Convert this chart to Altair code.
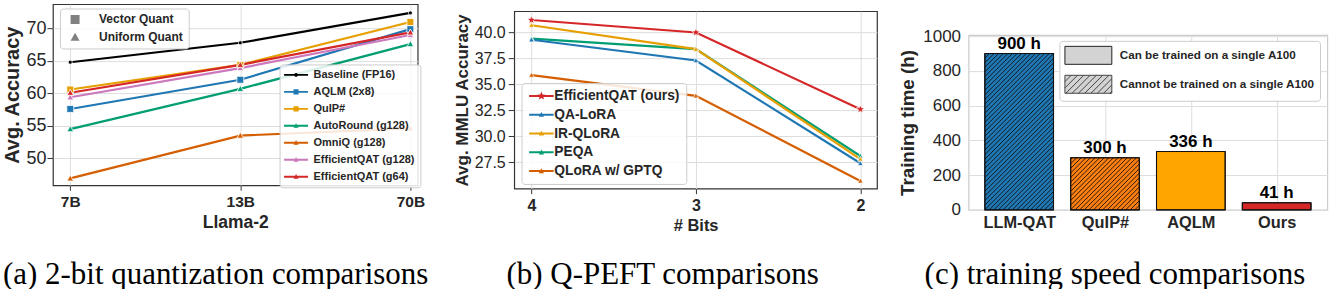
import json
import math
import altair as alt
import pandas as pd

# ---------------- data ----------------
A_MODELS = ["7B", "13B", "70B"]
A_SERIES = ["Baseline (FP16)", "AQLM (2x8)", "QuIP#", "AutoRound (g128)",
            "OmniQ (g128)", "EfficientQAT (g128)", "EfficientQAT (g64)"]
A_BASELINE = [64.8, 67.8, 72.4]
A_AQLM = [57.6, 62.1, 69.9]
A_QUIP = [60.6, 64.4, 71.0]
A_AUTOROUND = [54.5, 60.7, 67.6]
A_OMNIQ = [46.9, 53.5, 54.6]
A_EQAT128 = [59.4, 63.9, 69.0]
A_EQAT64 = [60.1, 64.4, 69.4]
A_QTYPES = ["Vector Quant", "Uniform Quant"]
A_QTYPE = ["Baseline", "Vector Quant", "Vector Quant", "Uniform Quant",
           "Uniform Quant", "Uniform Quant", "Uniform Quant"]

B_BITS = [4, 3, 2]
B_SERIES = ["EfficientQAT (ours)", "QA-LoRA", "IR-QLoRA", "PEQA", "QLoRA w/ GPTQ"]
B_EQAT = [41.2, 40.0, 32.6]
B_QALORA = [39.3, 37.3, 27.4]
B_IRQLORA = [40.7, 38.4, 27.8]
B_PEQA = [39.4, 38.4, 28.1]
B_QLORA_GPTQ = [35.9, 33.9, 25.7]

C_METHODS = ["LLM-QAT", "QuIP#", "AQLM", "Ours"]
C_HOURS = [900, 300, 336, 41]
C_SINGLE = [False, False, True, True]
C_TRAIN = ["Can be trained on a single A100", "Cannot be trained on a single A100"]

CAPTIONS = ["(a) 2-bit quantization comparisons", "(b) Q-PEFT comparisons",
            "(c) training speed comparisons"]

# ---------------- style ----------------
FONT = "Liberation Sans"
SERIF = "Liberation Serif"
TXT = "#262626"
GRID = "#dddddd"
A_COLORS = ["#000000", "#1f77b4", "#e69f00", "#029e73", "#d55e00", "#cc78bc", "#d62728"]
B_COLORS = ["#d62728", "#1f77b4", "#e69f00", "#029e73", "#d55e00"]
C_COLORS = ["#1f77b4", "#ff7f0e", "#ffa500", "#d62728"]
CAP_BASE = 282.5
LW = 2.2


def circle(r):
    return f"M{-r},0A{r},{r} 0 1,1 {r},0A{r},{r} 0 1,1 {-r},0Z"


def square(a):
    return f"M{-a},{-a}H{a}V{a}H{-a}Z"


def tri(h, w):
    return f"M0,{-h}L{w},{h * 0.75}H{-w}Z"


def star(R, ratio=0.45):
    pts = []
    for k in range(10):
        ang = -math.pi / 2 + k * math.pi / 5
        r = R if k % 2 == 0 else R * ratio
        pts.append((r * math.cos(ang), r * math.sin(ang)))
    return "M" + "L".join(f"{x:.3f},{y:.3f}" for x, y in pts) + "Z"


def hline(L, t):
    return f"M{-L},{-t}H{L}V{t}H{-L}Z"


def ax(**kw):
    d = dict(labelFont=FONT, titleFont=FONT, labelColor=TXT, titleColor=TXT,
             gridColor=GRID, gridWidth=1, domain=False, titleFontWeight="bold",
             tickColor="#333333", tickWidth=1, labelFlush=False, labelOverlap=False)
    d.update(kw)
    return alt.Axis(**d)


def leg(**kw):
    d = dict(orient="none", direction="vertical", title=None, labelFont=FONT,
             labelFontWeight="bold", labelColor=TXT, fillColor="rgba(255,255,255,0.85)",
             strokeColor="#cccccc", cornerRadius=3, symbolOpacity=1, labelLimit=400)
    d.update(kw)
    return alt.Legend(**d)


ONE = pd.DataFrame({"k": [0]})


def caption(text, x, y):
    return alt.Chart(ONE).mark_text(font=SERIF, fontSize=31, align="left",
                                    baseline="alphabetic", color="black").encode(
        x=alt.value(x), y=alt.value(y), text=alt.value(text))


def spacer(x1, x2, y):
    # invisible rule that only fixes the panel's outer bounds
    return alt.Chart(ONE).mark_rule(strokeOpacity=0).encode(
        x=alt.value(x1), x2=alt.value(x2), y=alt.value(y), y2=alt.value(y))


def top_gap(w, h):
    return alt.Chart(ONE).mark_rule(strokeOpacity=0).encode(
        x=alt.value(0), y=alt.value(0)).properties(width=w, height=h)


IND = dict(color="independent", shape="independent", fill="independent", stroke="independent")

# ---------------- panel (a) ----------------
WA, HA = 365.3, 181.3
A_TOP = 2.7
A_LEFT = 52
a_vals = [A_BASELINE, A_AQLM, A_QUIP, A_AUTOROUND, A_OMNIQ, A_EQAT128, A_EQAT64]
rows = []
for s, name in enumerate(A_SERIES):
    for i, m in enumerate(A_MODELS):
        rows.append(dict(series=name, model=m, xi=i, acc=a_vals[s][i], qtype=A_QTYPE[s]))
dfA = pd.DataFrame(rows)

A_MARK = [circle(0.65), square(1.15), square(1.15), tri(1.15, 1.1), tri(1.15, 1.1),
          tri(1.15, 1.1), tri(1.15, 1.1)]
LA = hline(4, 0.32)
A_LEG = [LA + circle(0.6), LA + square(0.85), LA + square(0.85), LA + tri(0.9, 0.85),
         LA + tri(0.9, 0.85), LA + tri(0.9, 0.85), LA + tri(0.9, 0.85)]

xA = alt.X("xi:Q", title="Llama-2",
           scale=alt.Scale(domain=[-0.102, 2.043], nice=False, zero=False),
           axis=ax(values=[0, 1, 2], labelExpr=f"{json.dumps(A_MODELS)}[datum.value]",
                   labelFontSize=15.5, labelFontWeight="bold", tickSize=5, labelPadding=4,
                   titleFontSize=17.5, titlePadding=4))
yA = alt.Y("acc:Q", title="Avg. Accuracy",
           scale=alt.Scale(domain=[45.85, 73.74], nice=False, zero=False),
           axis=ax(values=[50, 55, 60, 65, 70], labelFontSize=18, tickSize=6,
                   labelPadding=1, titleFontSize=20, titlePadding=3))
colA = alt.Scale(domain=A_SERIES, range=A_COLORS)

a_lines = alt.Chart(dfA).mark_line(strokeWidth=LW).encode(
    x=xA, y=yA, color=alt.Color("series:N", scale=colA, legend=None))
a_pts = alt.Chart(dfA).mark_point(filled=True, opacity=1, size=36, stroke="white",
                                  strokeWidth=0.8).encode(
    x=xA, y=yA, color=alt.Color("series:N", scale=colA, legend=None),
    shape=alt.Shape("series:N", scale=alt.Scale(domain=A_SERIES, range=A_MARK), legend=None))
legA = leg(legendX=227, legendY=60.3, labelFontSize=11, symbolSize=36, symbolStrokeWidth=0,
           symbolOffset=6, labelOffset=12, rowPadding=5, padding=5)
a_leg = alt.Chart(dfA).transform_filter("false").mark_point(
    filled=True, opacity=1, size=36, strokeWidth=0).encode(
    shape=alt.Shape("series:N", scale=alt.Scale(domain=A_SERIES, range=A_LEG), legend=legA),
    fill=alt.Fill("series:N", scale=alt.Scale(domain=A_SERIES, range=A_COLORS), legend=legA))
legQ = leg(legendX=7, legendY=4.3, labelFontSize=12, symbolSize=81, symbolStrokeWidth=0,
           symbolOffset=4.2, labelOffset=18, rowPadding=5.3, padding=5)
a_legq = alt.Chart(dfA).transform_filter("false").mark_point(
    filled=True, opacity=1, size=81, strokeWidth=0).encode(
    shape=alt.Shape("qtype:N", scale=alt.Scale(domain=A_QTYPES, range=["square", "triangle-up"]),
                    legend=legQ),
    fill=alt.Fill("qtype:N", scale=alt.Scale(domain=A_QTYPES, range=["#808080", "#808080"]),
                  legend=legQ))

panelA = alt.layer(
    a_lines, a_pts, a_leg, a_legq,
    caption(CAPTIONS[0], 2 - A_LEFT, CAP_BASE - A_TOP),
    spacer(-51.5, 389.5, -A_TOP),
).resolve_scale(shape="independent", fill="independent").properties(
    width=WA, height=HA, view=alt.ViewBackground(stroke="#333333", strokeWidth=1.2))

# ---------------- panel (b) ----------------
WB, HB = 363.3, 177.7
B_TOP = 9
B_LEFT = 512.7
b_vals = [B_EQAT, B_QALORA, B_IRQLORA, B_PEQA, B_QLORA_GPTQ]
rows = []
for s in reversed(range(len(B_SERIES))):
    for i, b in enumerate(B_BITS):
        rows.append(dict(series=B_SERIES[s], bits=b, acc=b_vals[s][i]))
dfB = pd.DataFrame(rows)

B_MARK = [star(1.45)] + [tri(0.95, 0.9)] * 4
LB = hline(3.5, 0.3)
B_LEG = [LB + star(1.25)] + [LB + tri(0.8, 0.75)] * 4

xB = alt.X("bits:Q", title="# Bits",
           scale=alt.Scale(domain=[1.899, 4.105], reverse=True, nice=False, zero=False),
           axis=ax(values=B_BITS, format="d", labelFontSize=16, labelFontWeight="bold",
                   tickSize=5, labelPadding=4, titleFontSize=16.5, titlePadding=4))
yB = alt.Y("acc:Q", title="Avg. MMLU Accuracy",
           scale=alt.Scale(domain=[24.96, 42.05], nice=False, zero=False),
           axis=ax(values=[27.5, 30, 32.5, 35, 37.5, 40], format=".1f", labelFontSize=16,
                   tickSize=6, labelPadding=3, titleFontSize=17, titlePadding=3))
colB = alt.Scale(domain=B_SERIES, range=B_COLORS)

b_lines = alt.Chart(dfB).mark_line(strokeWidth=LW).encode(
    x=xB, y=yB, color=alt.Color("series:N", scale=colB, legend=None))
b_pts = alt.Chart(dfB).mark_point(filled=True, opacity=1, size=36, stroke="white",
                                  strokeWidth=0.7).encode(
    x=xB, y=yB, color=alt.Color("series:N", scale=colB, legend=None),
    shape=alt.Shape("series:N", scale=alt.Scale(domain=B_SERIES, range=B_MARK), legend=None))
legB = leg(legendX=7.3, legendY=72, labelFontSize=13.8, symbolSize=49, symbolStrokeWidth=0,
           symbolOffset=7, labelOffset=6, rowPadding=3.8, padding=6)
b_leg = alt.Chart(dfB).transform_filter("false").mark_point(
    filled=True, opacity=1, size=49, strokeWidth=0).encode(
    shape=alt.Shape("series:N", scale=alt.Scale(domain=B_SERIES, range=B_LEG), legend=legB),
    fill=alt.Fill("series:N", scale=alt.Scale(domain=B_SERIES, range=B_COLORS), legend=legB))

panelB = alt.layer(
    b_lines, b_pts, b_leg,
    caption(CAPTIONS[1], 505 - B_LEFT, CAP_BASE - B_TOP),
    spacer(-70.2, 379.5, 0),
).resolve_scale(shape="independent", fill="independent").properties(
    width=WB, height=HB, view=alt.ViewBackground(stroke="#333333", strokeWidth=1.2))

# ---------------- panel (c) ----------------
WC, HC = 359.3, 175
C_TOP = 33.3
C_LEFT = 966
XC_DOM = [-0.59, 3.59]
YC_DOM = [0, 1005.7]
HALF = 0.4
dfC = pd.DataFrame(dict(idx=list(range(len(C_METHODS))), method=C_METHODS, hours=C_HOURS,
                        label=[f"{h} h" for h in C_HOURS],
                        train=[C_TRAIN[0] if s else C_TRAIN[1] for s in C_SINGLE]))

# hatch segments ("/" at 45 degrees on screen) for bars that cannot be trained on one GPU
pxx = WC / (XC_DOM[1] - XC_DOM[0])
pxy = HC / (YC_DOM[1] - YC_DOM[0])
slope = pxx / pxy
step = slope * 4.6 / pxx
hrows = []
for i, (h, s) in enumerate(zip(C_HOURS, C_SINGLE)):
    if s:
        continue
    xl, xr = i - HALF, i + HALF
    c = -slope * (xr - xl)
    while c < h:
        xs = max(xl, xl + (0 - c) / slope)
        xe = min(xr, xl + (h - c) / slope)
        if xe > xs:
            hrows.append(dict(hx0=xs, hx1=xe, hy0=slope * (xs - xl) + c,
                              hy1=slope * (xe - xl) + c))
        c += step
dfH = pd.DataFrame(hrows)


def hatched_rect(W, Hh, sp):
    p = f"M{-W},{-Hh}H{W}V{Hh}H{-W}Z"
    k = -W - Hh
    while k < W + Hh:
        xs = max(-W, k - Hh)
        xe = min(W, k + Hh)
        if xe > xs + 1e-6:
            p += f"M{xs:.3f},{k - xs:.3f}L{xe:.3f},{k - xe:.3f}"
        k += sp
    return p


C_LEG = ["M-2.61,-1H2.61V1H-2.61Z", hatched_rect(2.61, 1, 0.7)]

scXC = alt.Scale(domain=XC_DOM, nice=False, zero=False)
scYC = alt.Scale(domain=YC_DOM, nice=False, zero=False)
axXC = ax(values=list(range(len(C_METHODS))), labelExpr=f"{json.dumps(C_METHODS)}[datum.value]",
          labelFontSize=16.4, labelFontWeight="bold", ticks=False, labelPadding=5)
axYC = ax(values=[0, 200, 400, 600, 800, 1000], format="d", labelFontSize=17, ticks=False,
          labelPadding=8, titleFontSize=18.8, titlePadding=5)
YT = "Training time (h)"

baseC = alt.Chart(dfC).transform_calculate(x0=f"datum.idx - {HALF}", x1=f"datum.idx + {HALF}")
c_bars = baseC.mark_rect(stroke="#111111", strokeWidth=1).encode(
    x=alt.X("x0:Q", title=None, scale=scXC, axis=axXC), x2="x1:Q",
    y=alt.Y("hours:Q", title=YT, scale=scYC, axis=axYC), y2=alt.datum(0),
    color=alt.Color("method:N", scale=alt.Scale(domain=C_METHODS, range=C_COLORS), legend=None))
c_hatch = alt.Chart(dfH).mark_rule(color="#111111", strokeWidth=0.9).encode(
    x=alt.X("hx0:Q", title=None, scale=scXC, axis=axXC), x2="hx1:Q",
    y=alt.Y("hy0:Q", title=YT, scale=scYC, axis=axYC), y2="hy1:Q")
c_outline = baseC.mark_rect(fillOpacity=0, stroke="#111111", strokeWidth=1.1).encode(
    x=alt.X("x0:Q", title=None, scale=scXC, axis=axXC), x2="x1:Q",
    y=alt.Y("hours:Q", title=YT, scale=scYC, axis=axYC), y2=alt.datum(0))
c_text = alt.Chart(dfC).mark_text(font=FONT, fontSize=17, fontWeight="bold", color="black",
                                  baseline="alphabetic", dy=-4.5).encode(
    x=alt.X("idx:Q", title=None, scale=scXC, axis=axXC),
    y=alt.Y("hours:Q", title=YT, scale=scYC, axis=axYC), text="label:N")
legC = leg(legendX=91, legendY=5.7, labelFontSize=11.7, symbolSize=324, symbolStrokeWidth=1,
           symbolOffset=14.5, labelOffset=22, rowPadding=6, padding=5, fillColor="white")
c_leg = alt.Chart(dfC).transform_filter("false").mark_point(
    filled=True, opacity=1, size=324, strokeWidth=1).encode(
    shape=alt.Shape("train:N", scale=alt.Scale(domain=C_TRAIN, range=C_LEG), legend=legC),
    fill=alt.Fill("train:N", scale=alt.Scale(domain=C_TRAIN, range=["#d3d3d3", "#d3d3d3"]),
                  legend=legC),
    stroke=alt.Stroke("train:N", scale=alt.Scale(domain=C_TRAIN, range=["#222222", "#444444"]),
                      legend=legC))

panelC = alt.layer(
    c_bars, c_hatch, c_outline, c_text, c_leg,
    caption(CAPTIONS[2], 922 - C_LEFT, CAP_BASE - C_TOP),
    spacer(-72.8, 360.5, 0),
).properties(width=WC, height=HC, view=alt.ViewBackground(stroke="#cccccc", strokeWidth=1.2))

cellB = alt.vconcat(top_gap(WB, B_TOP - A_TOP), panelB, spacing=0, bounds="flush"
                    ).resolve_scale(**IND)
cellC = alt.vconcat(top_gap(WC, C_TOP - A_TOP), panelC, spacing=0, bounds="flush"
                    ).resolve_scale(**IND)

chart = alt.hconcat(panelA, cellB, cellC, spacing=0).resolve_scale(**IND).properties(
    padding={"left": 0, "top": 0, "right": 0, "bottom": 0}, background="white"
).configure_view(stroke=None)

chart.save("out.html", embed_options={"renderer": "svg", "actions": False})
